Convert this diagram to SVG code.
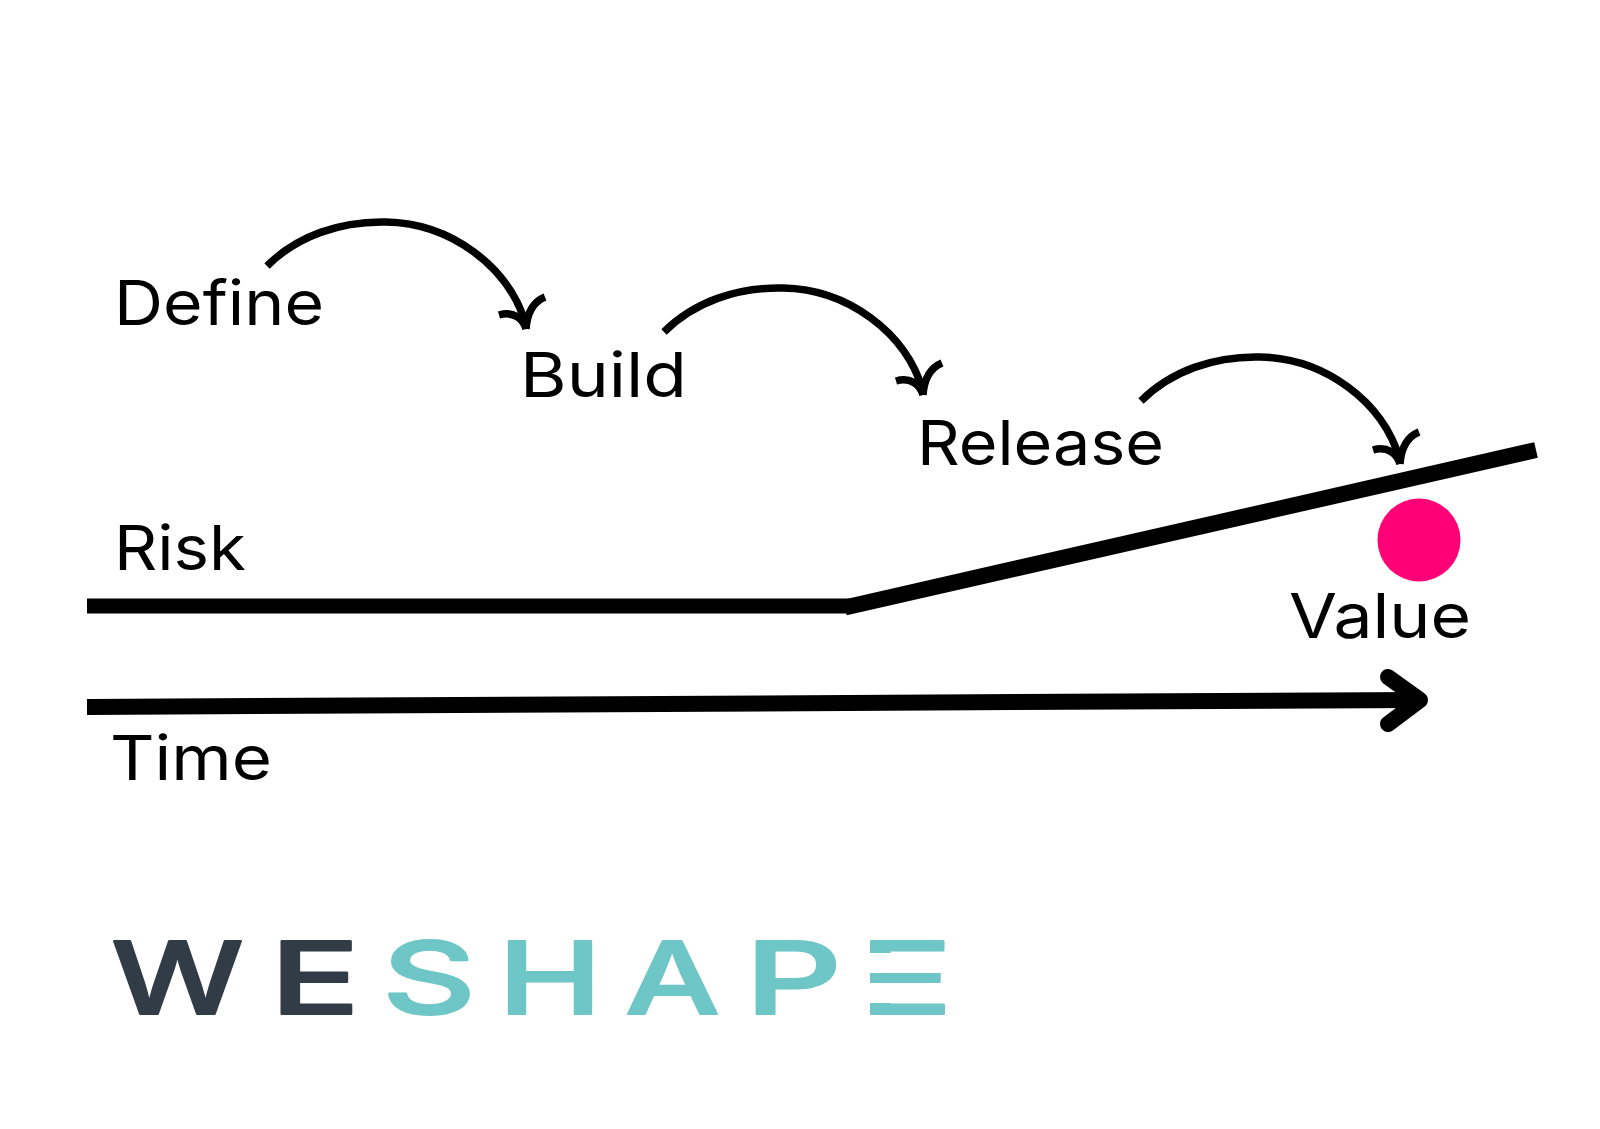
<svg xmlns="http://www.w3.org/2000/svg" xmlns:xlink="http://www.w3.org/1999/xlink" width="1600" height="1129" viewBox="0 0 1600 1129">
<style>
.l{font-family:"Inter","Liberation Sans",sans-serif;font-size:62px;font-weight:400;fill:#000}
.c{fill:none;stroke:#000;stroke-width:7.5}
.b{fill:none;stroke:#000;stroke-width:15}
.s{stroke-width:16}
.g{font-family:"Inter","Liberation Sans",sans-serif;font-size:100px;font-weight:500;stroke-width:2;stroke-linejoin:round}
.d{fill:#323c47;stroke:#323c47}.t{fill:#6fc6c6;stroke:#6fc6c6}
</style>
<defs>
<g id="hop">
<path class="c" d="M267 266C297 236 340 221 386 222C450 223 509 266 526 325"/>
<path class="c" d="M499 315C513 311 523 318 526 329"/>
<path class="c" d="M545 297C533 302 527 314 526 329"/>
</g>
<clipPath id="bars"><rect x="860" y="940" width="95" height="13"/><rect x="860" y="973" width="95" height="10"/><rect x="860" y="1003" width="95" height="13"/></clipPath>
</defs>
<rect width="1600" height="1129" fill="#fff"/>
<g id="connectors">
<use xlink:href="#hop" href="#hop"/>
<use xlink:href="#hop" href="#hop" x="397" y="66"/>
<use xlink:href="#hop" href="#hop" x="874" y="135"/>
<path class="b" d="M87 606H852"/>
<path class="b s" d="M845 607.5L1536 450"/>
<path class="b s" d="M87 707L1418 700"/>
<path class="b s" d="M1388 677L1420 700L1388 724" stroke-linecap="round" stroke-linejoin="round"/>
</g>
<g id="define"><text class="l" x="114" y="325" textLength="210" lengthAdjust="spacingAndGlyphs">Define</text></g>
<g id="build"><text class="l" x="520" y="397" textLength="167" lengthAdjust="spacingAndGlyphs">Build</text></g>
<g id="release"><text class="l" x="917" y="465" textLength="247" lengthAdjust="spacingAndGlyphs">Release</text></g>
<g id="risk"><text class="l" x="114" y="570" textLength="132" lengthAdjust="spacingAndGlyphs">Risk</text></g>
<g id="value"><circle cx="1419" cy="540" r="41.5" fill="#ff0076"/><text class="l" x="1289" y="638" textLength="182" lengthAdjust="spacingAndGlyphs">Value</text></g>
<g id="time"><text class="l" x="110" y="780" textLength="162" lengthAdjust="spacingAndGlyphs">Time</text></g>
<g id="logo">
<text class="g d" x="111" y="1014" textLength="133" lengthAdjust="spacingAndGlyphs">W</text>
<text class="g d" x="270" y="1014" textLength="90" lengthAdjust="spacingAndGlyphs">E</text>
<text class="g t" x="382" y="1014" textLength="94" lengthAdjust="spacingAndGlyphs">S</text>
<text class="g t" x="498" y="1014" textLength="104" lengthAdjust="spacingAndGlyphs">H</text>
<text class="g t" x="625" y="1014" textLength="95" lengthAdjust="spacingAndGlyphs">A</text>
<text class="g t" x="745" y="1014" textLength="97" lengthAdjust="spacingAndGlyphs">P</text>
<text class="g t" x="859" y="1014" textLength="94" clip-path="url(#bars)" lengthAdjust="spacingAndGlyphs">E</text>
</g>
</svg>
